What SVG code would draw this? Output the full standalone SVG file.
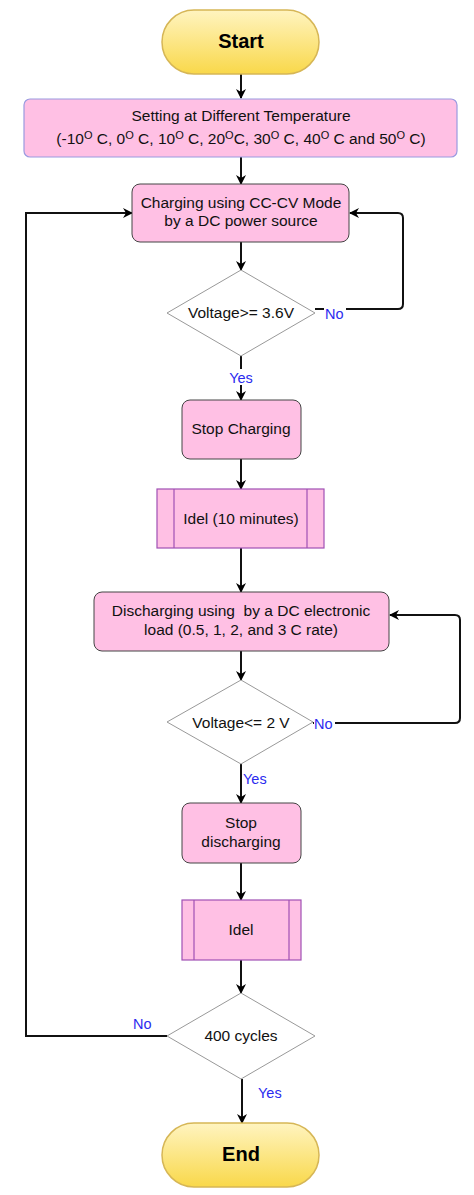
<svg xmlns="http://www.w3.org/2000/svg" width="474" height="1195" viewBox="0 0 474 1195">
<defs>
<linearGradient id="yel" x1="0" y1="0" x2="0" y2="1">
<stop offset="0" stop-color="#fff4c0"/>
<stop offset="1" stop-color="#f9d84a"/>
</linearGradient>
<marker id="arr" viewBox="0 0 10 10" refX="9" refY="5" markerWidth="10" markerHeight="10" markerUnits="userSpaceOnUse" orient="auto">
<path d="M0,0 L10,5 L0,10 L3,5 Z" fill="#000"/>
</marker>
</defs>
<style>
.t{font-family:"Liberation Sans",Arial,sans-serif;font-size:15.5px;fill:#111;text-anchor:middle;}
.b{font-family:"Liberation Sans",Arial,sans-serif;font-size:20px;font-weight:bold;fill:#000;text-anchor:middle;}
.l{font-family:"Liberation Sans",Arial,sans-serif;font-size:14.5px;fill:#2b2bef;}
.term{fill:url(#yel);stroke:#d6b656;stroke-width:1.5;}
.proc{fill:#ffc0e4;stroke:#444;stroke-width:1;}
.set{fill:#ffc0e4;stroke:#9a9ae0;stroke-width:1.2;}
.sub{fill:#ffc0e4;stroke:#a050b4;stroke-width:1.2;}
.dia{fill:#fff;stroke:#999;stroke-width:1;}
.c{fill:none;stroke:#111;stroke-width:2;marker-end:url(#arr);}
</style>
<rect width="474" height="1195" fill="#fff"/>
<g id="connectors">
<path class="c" d="M241,74 V98"/>
<path class="c" d="M241,157 V184"/>
<path class="c" d="M241,242 V270"/>
<path class="c" d="M315,309 H398 Q403,309 403,304 V218 Q403,213 398,213 H350"/>
<path class="c" d="M241,356 V400"/>
<path class="c" d="M241,459 V489"/>
<path class="c" d="M241,548 V592"/>
<path class="c" d="M241,651 V680"/>
<path class="c" d="M313,723 H455 Q460,723 460,718 V620 Q460,615 455,615 H390"/>
<path class="c" d="M241,764 V803"/>
<path class="c" d="M241,863 V900"/>
<path class="c" d="M241,960 V993"/>
<path class="c" d="M167,1036 H26 V213 H132"/>
<path class="c" d="M242,1079 V1123"/>
</g>
<g id="start">
<rect class="term" x="162" y="10" width="157" height="64" rx="32" ry="32"/>
<text class="b" x="241" y="48">Start</text>
</g>
<g id="setting">
<rect class="set" x="24" y="99" width="433" height="58" rx="6"/>
<text class="t" x="241" y="121">Setting at Different Temperature</text>
<text class="t" x="241" y="144">(-10<tspan font-size="11" dy="-5">O</tspan><tspan dy="5"> C, 0</tspan><tspan font-size="11" dy="-5">O</tspan><tspan dy="5"> C, 10</tspan><tspan font-size="11" dy="-5">O</tspan><tspan dy="5"> C, 20</tspan><tspan font-size="11" dy="-5">O</tspan><tspan dy="5">C, 30</tspan><tspan font-size="11" dy="-5">O</tspan><tspan dy="5"> C, 40</tspan><tspan font-size="11" dy="-5">O</tspan><tspan dy="5"> C and 50</tspan><tspan font-size="11" dy="-5">O</tspan><tspan dy="5"> C)</tspan></text>
</g>
<g id="charging">
<rect class="proc" x="132" y="184" width="217" height="58" rx="8"/>
<text class="t" x="241" y="208">Charging using CC-CV Mode</text>
<text class="t" x="241" y="226">by a DC power source</text>
</g>
<g id="dec1">
<polygon class="dia" points="241,270 315,313 241,356 167,313"/>
<text class="t" x="241" y="318">Voltage&gt;= 3.6V</text>
<rect x="324" y="302" width="22" height="18" fill="#fff"/>
<text class="l" x="325" y="319">No</text>
<rect x="227" y="369" width="28" height="16" fill="#fff"/>
<text class="l" x="241" y="383" text-anchor="middle">Yes</text>
</g>
<g id="stopcharging">
<rect class="proc" x="182" y="400" width="119" height="59" rx="8"/>
<text class="t" x="241" y="434">Stop Charging</text>
</g>
<g id="idel1">
<rect class="sub" x="157" y="489" width="167" height="59"/>
<line class="sub" x1="174" y1="489" x2="174" y2="548"/>
<line class="sub" x1="307" y1="489" x2="307" y2="548"/>
<text class="t" x="241" y="524">Idel (10 minutes)</text>
</g>
<g id="discharging">
<rect class="proc" x="94" y="592" width="295" height="59" rx="8"/>
<text class="t" x="241" y="616" xml:space="preserve">Discharging using  by a DC electronic</text>
<text class="t" x="241" y="635">load (0.5, 1, 2, and 3 C rate)</text>
</g>
<g id="dec2">
<polygon class="dia" points="241,680 313,722 241,764 167,722"/>
<text class="t" x="241" y="728">Voltage&lt;= 2 V</text>
<rect x="314" y="714" width="21" height="17" fill="#fff"/>
<text class="l" x="314" y="729">No</text>
<rect x="243" y="770" width="27" height="16" fill="#fff"/>
<text class="l" x="243" y="784">Yes</text>
</g>
<g id="stopdischarging">
<rect class="proc" x="182" y="803" width="119" height="60" rx="8"/>
<text class="t" x="241" y="828">Stop</text>
<text class="t" x="241" y="847">discharging</text>
</g>
<g id="idel2">
<rect class="sub" x="182" y="900" width="119" height="60"/>
<line class="sub" x1="194" y1="900" x2="194" y2="960"/>
<line class="sub" x1="289" y1="900" x2="289" y2="960"/>
<text class="t" x="241" y="935">Idel</text>
</g>
<g id="dec3">
<polygon class="dia" points="241,993 315,1036 241,1079 167,1036"/>
<text class="t" x="241" y="1041">400 cycles</text>
<text class="l" x="133" y="1029">No</text>
<text class="l" x="258" y="1098">Yes</text>
</g>
<g id="end">
<rect class="term" x="162" y="1123" width="157" height="64" rx="32" ry="32"/>
<text class="b" x="241" y="1161">End</text>
</g>
</svg>
